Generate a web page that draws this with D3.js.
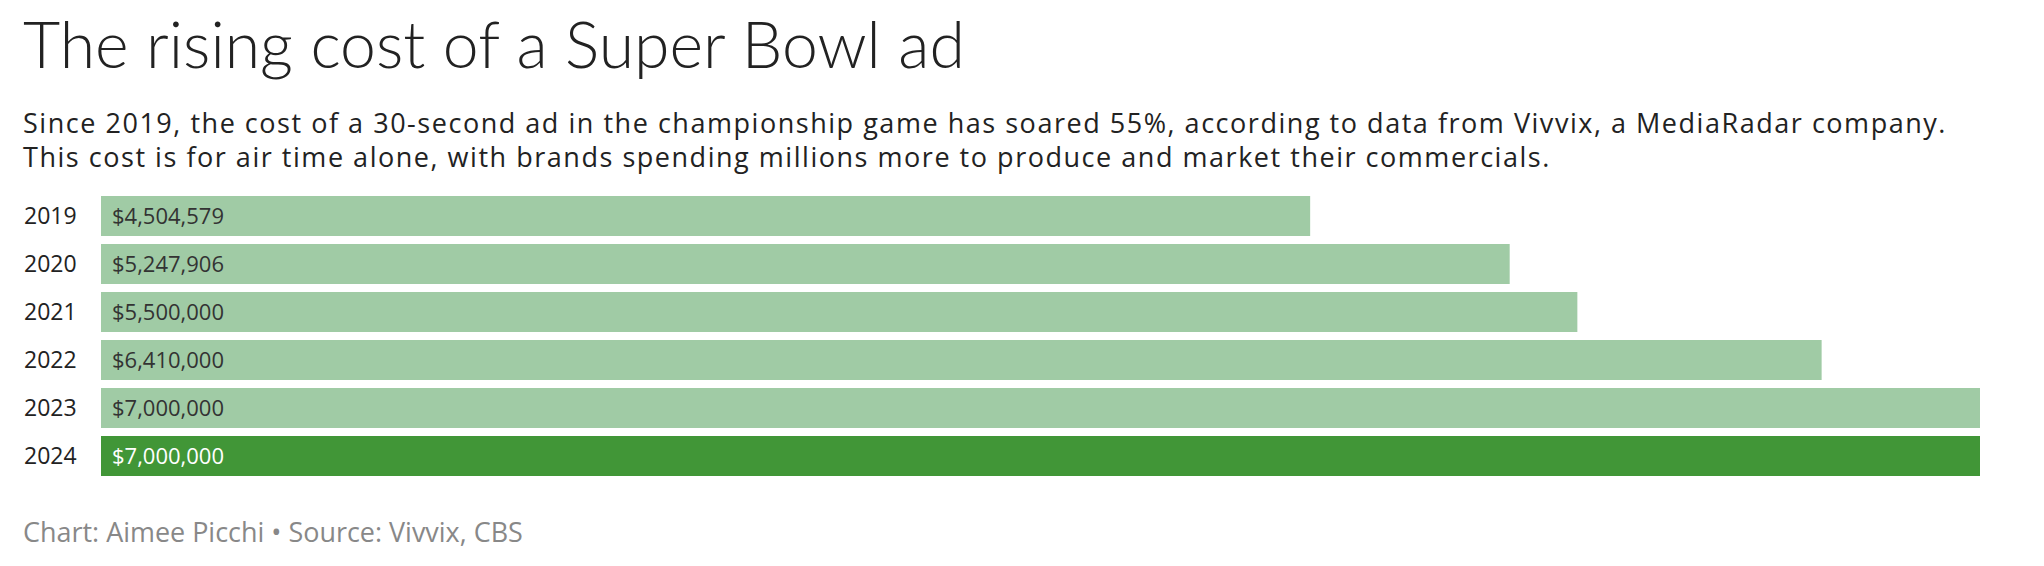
<!DOCTYPE html>
<html>
<head>
<meta charset="utf-8">
<script src="https://cdn.jsdelivr.net/npm/d3@7"></script>
<style>
  html, body { margin: 0; padding: 0; background: #fff; }
  svg { display: block; }
  text { font-family: "Open Sans", Lato, sans-serif; }
</style>
</head>
<body>
<script>
const title = "The rising cost of a Super Bowl ad";
const subtitleLines = [
  "Since 2019, the cost of a 30-second ad in the championship game has soared 55%, according to data from Vivvix, a MediaRadar company.",
  "This cost is for air time alone, with brands spending millions more to produce and market their commercials."
];
const footer = "Chart: Aimee Picchi \u2022 Source: Vivvix, CBS";
const years = ["2019", "2020", "2021", "2022", "2023", "2024"];
const costs = [4504579, 5247906, 5500000, 6410000, 7000000, 7000000];
const highlightYear = "2024";

const W = 2044, H = 566;
const svg = d3.select("body").append("svg").attr("width", W).attr("height", H);

function fit(sel, target) {
  const n = sel.node();
  const fs = parseFloat(sel.attr("font-size"));
  const len = n.getComputedTextLength();
  const nf = fs * target / len;
  sel.attr("font-size", nf);
  return nf;
}
// adjust letter-spacing so the text reaches the target width; returns spacing
function spaceFit(sel, target) {
  const n = sel.node();
  const len = n.getComputedTextLength();
  const chars = sel.text().length;
  const ls = (target - len) / chars;
  sel.attr("letter-spacing", ls);
  return ls;
}

// Title
const t = svg.append("text").attr("x", 23).attr("y", 68)
  .attr("font-size", 60).attr("font-weight", 300).attr("fill", "#222")
  .style("font-family", "Lato, 'Open Sans', sans-serif").text(title);
fit(t, 942);

// Subtitle
const s1 = svg.append("text").attr("x", 23).attr("y", 133)
  .attr("font-size", 27).attr("fill", "#222").text(subtitleLines[0]);
const ls = spaceFit(s1, 1924);
svg.append("text").attr("x", 23).attr("y", 167)
  .attr("font-size", 27).attr("letter-spacing", ls).attr("fill", "#222").text(subtitleLines[1]);

// Scales
const x = d3.scaleLinear().domain([0, 7000000]).range([101, 1980]);
const y = d3.scaleBand().domain(years).range([196, 476]).paddingInner(1/6).paddingOuter(0);
const fmt = d3.format("$,.0f");

const rows = svg.append("g").selectAll("g").data(years).join("g");

rows.append("rect")
  .attr("x", x(0))
  .attr("y", d => y(d))
  .attr("width", (d, i) => x(costs[i]) - x(0))
  .attr("height", y.bandwidth())
  .attr("fill", d => d === highlightYear ? "#419637" : "#a0cba5");

rows.append("text")
  .attr("x", 24)
  .attr("y", d => y(d) + y.bandwidth() / 2 + 8)
  .attr("font-size", 23)
  .attr("fill", "#222")
  .text(d => d);

rows.append("text")
  .attr("x", x(0) + 11)
  .attr("y", d => y(d) + y.bandwidth() / 2 + 8)
  .attr("font-size", 22)
  .attr("fill", d => d === highlightYear ? "#ffffff" : "#333")
  .text((d, i) => fmt(costs[i]));

// Footer
const f = svg.append("text").attr("x", 23).attr("y", 542)
  .attr("font-size", 23).attr("fill", "#888").text(footer);
fit(f, 500);
</script>
</body>
</html>
